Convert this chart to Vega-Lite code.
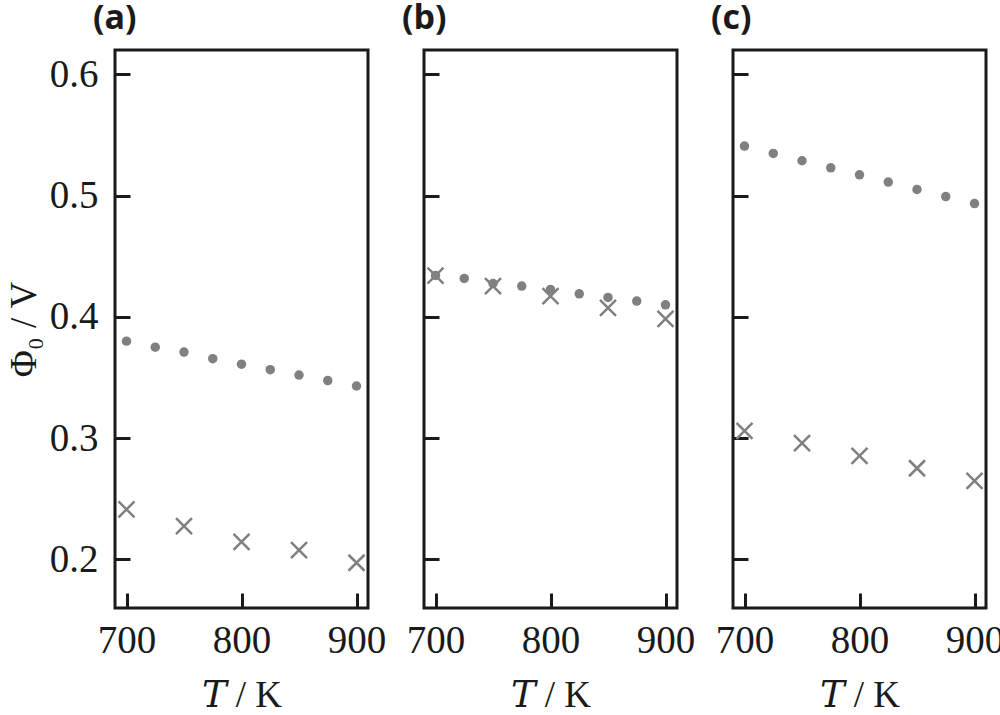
{
  "$schema": "https://vega.github.io/schema/vega-lite/v6.json",
  "background": "white",
  "padding": {"left": 3, "top": 0, "right": 0, "bottom": 0},
  "datasets": {
    "pts": [
      {"panel": "a", "kind": "dot", "T": 700, "phi": 0.380},
      {"panel": "a", "kind": "dot", "T": 725, "phi": 0.375},
      {"panel": "a", "kind": "dot", "T": 750, "phi": 0.371},
      {"panel": "a", "kind": "dot", "T": 775, "phi": 0.3655},
      {"panel": "a", "kind": "dot", "T": 800, "phi": 0.361},
      {"panel": "a", "kind": "dot", "T": 825, "phi": 0.3565},
      {"panel": "a", "kind": "dot", "T": 850, "phi": 0.352},
      {"panel": "a", "kind": "dot", "T": 875, "phi": 0.3475},
      {"panel": "a", "kind": "dot", "T": 900, "phi": 0.343},
      {"panel": "a", "kind": "cross", "T": 700, "phi": 0.2413},
      {"panel": "a", "kind": "cross", "T": 750, "phi": 0.2275},
      {"panel": "a", "kind": "cross", "T": 800, "phi": 0.2146},
      {"panel": "a", "kind": "cross", "T": 850, "phi": 0.2077},
      {"panel": "a", "kind": "cross", "T": 900, "phi": 0.1973},
      {"panel": "b", "kind": "dot", "T": 700, "phi": 0.4341},
      {"panel": "b", "kind": "dot", "T": 725, "phi": 0.4317},
      {"panel": "b", "kind": "dot", "T": 750, "phi": 0.4275},
      {"panel": "b", "kind": "dot", "T": 775, "phi": 0.4254},
      {"panel": "b", "kind": "dot", "T": 800, "phi": 0.4226},
      {"panel": "b", "kind": "dot", "T": 825, "phi": 0.419},
      {"panel": "b", "kind": "dot", "T": 850, "phi": 0.416},
      {"panel": "b", "kind": "dot", "T": 875, "phi": 0.413},
      {"panel": "b", "kind": "dot", "T": 900, "phi": 0.4099},
      {"panel": "b", "kind": "cross", "T": 700, "phi": 0.434},
      {"panel": "b", "kind": "cross", "T": 750, "phi": 0.4254},
      {"panel": "b", "kind": "cross", "T": 800, "phi": 0.4171},
      {"panel": "b", "kind": "cross", "T": 850, "phi": 0.4074},
      {"panel": "b", "kind": "cross", "T": 900, "phi": 0.3983},
      {"panel": "c", "kind": "dot", "T": 700, "phi": 0.5408},
      {"panel": "c", "kind": "dot", "T": 725, "phi": 0.5347},
      {"panel": "c", "kind": "dot", "T": 750, "phi": 0.5287},
      {"panel": "c", "kind": "dot", "T": 775, "phi": 0.5229},
      {"panel": "c", "kind": "dot", "T": 800, "phi": 0.5171},
      {"panel": "c", "kind": "dot", "T": 825, "phi": 0.5111},
      {"panel": "c", "kind": "dot", "T": 850, "phi": 0.505},
      {"panel": "c", "kind": "dot", "T": 875, "phi": 0.4992},
      {"panel": "c", "kind": "dot", "T": 900, "phi": 0.4934},
      {"panel": "c", "kind": "cross", "T": 700, "phi": 0.3061},
      {"panel": "c", "kind": "cross", "T": 750, "phi": 0.2959},
      {"panel": "c", "kind": "cross", "T": 800, "phi": 0.2855},
      {"panel": "c", "kind": "cross", "T": 850, "phi": 0.2752},
      {"panel": "c", "kind": "cross", "T": 900, "phi": 0.2648}
    ]
  },
  "config": {
    "view": {"stroke": "#1a1a1a", "strokeWidth": 3},
    "axis": {
      "domain": false,
      "grid": false,
      "tickColor": "#1a1a1a",
      "tickWidth": 3,
      "tickSize": -15,
      "labelFont": "Liberation Serif",
      "labelFontSize": 39,
      "labelColor": "#1a1a1a",
      "titleFont": "Liberation Serif, DejaVu Serif",
      "titleFontSize": 37,
      "titleFontWeight": "normal",
      "titleColor": "#1a1a1a"
    },
    "axisX": {"labelPadding": 28, "titlePadding": 17},
    "axisY": {"labelPadding": 32, "titlePadding": 6},
    "title": {"font": "Open Sans", "fontWeight": "bold", "fontSize": 34, "anchor": "start", "frame": "group", "color": "#1a1a1a"}
  },
  "bounds": "flush",
  "spacing": 56,
  "hconcat": [
    {
      "width": 253, "height": 558,
      "title": {"text": "(a)", "dx": -22, "offset": 14},
      "data": {"name": "pts"},
      "transform": [{"filter": "datum.panel == 'a'"}],
      "layer": [
        {
          "transform": [{"filter": "datum.kind == 'dot'"}],
          "mark": {"type": "point", "shape": "circle", "filled": true, "size": 90, "color": "#808080", "opacity": 1},
          "encoding": {
            "x": {"field": "T", "type": "quantitative", "scale": {"domain": [690, 910], "nice": false, "zero": false}, "axis": {"values": [700, 800, 900], "title": "𝑇 / K"}},
            "y": {"field": "phi", "type": "quantitative", "scale": {"domain": [0.16, 0.62], "nice": false, "zero": false}, "axis": {"values": [0.2, 0.3, 0.4, 0.5, 0.6], "format": ".1f", "title": "Φ₀ / V"}}
          }
        },
        {
          "transform": [{"filter": "datum.kind == 'cross'"}],
          "mark": {"type": "point", "shape": "M-1,-1L1,1M1,-1L-1,1", "filled": false, "size": 256, "strokeWidth": 2.5, "color": "#808080", "opacity": 1},
          "encoding": {
            "x": {"field": "T", "type": "quantitative"},
            "y": {"field": "phi", "type": "quantitative"}
          }
        }
      ]
    },
    {
      "width": 253, "height": 558,
      "title": {"text": "(b)", "dx": -22, "offset": 14},
      "data": {"name": "pts"},
      "transform": [{"filter": "datum.panel == 'b'"}],
      "layer": [
        {
          "transform": [{"filter": "datum.kind == 'dot'"}],
          "mark": {"type": "point", "shape": "circle", "filled": true, "size": 90, "color": "#808080", "opacity": 1},
          "encoding": {
            "x": {"field": "T", "type": "quantitative", "scale": {"domain": [690, 910], "nice": false, "zero": false}, "axis": {"values": [700, 800, 900], "title": "𝑇 / K"}},
            "y": {"field": "phi", "type": "quantitative", "scale": {"domain": [0.16, 0.62], "nice": false, "zero": false}, "axis": {"values": [0.2, 0.3, 0.4, 0.5, 0.6], "labels": false, "title": null}}
          }
        },
        {
          "transform": [{"filter": "datum.kind == 'cross'"}],
          "mark": {"type": "point", "shape": "M-1,-1L1,1M1,-1L-1,1", "filled": false, "size": 256, "strokeWidth": 2.5, "color": "#808080", "opacity": 1},
          "encoding": {
            "x": {"field": "T", "type": "quantitative"},
            "y": {"field": "phi", "type": "quantitative"}
          }
        }
      ]
    },
    {
      "width": 253, "height": 558,
      "title": {"text": "(c)", "dx": -22, "offset": 14},
      "data": {"name": "pts"},
      "transform": [{"filter": "datum.panel == 'c'"}],
      "layer": [
        {
          "transform": [{"filter": "datum.kind == 'dot'"}],
          "mark": {"type": "point", "shape": "circle", "filled": true, "size": 90, "color": "#808080", "opacity": 1},
          "encoding": {
            "x": {"field": "T", "type": "quantitative", "scale": {"domain": [690, 910], "nice": false, "zero": false}, "axis": {"values": [700, 800, 900], "title": "𝑇 / K"}},
            "y": {"field": "phi", "type": "quantitative", "scale": {"domain": [0.16, 0.62], "nice": false, "zero": false}, "axis": {"values": [0.2, 0.3, 0.4, 0.5, 0.6], "labels": false, "title": null}}
          }
        },
        {
          "transform": [{"filter": "datum.kind == 'cross'"}],
          "mark": {"type": "point", "shape": "M-1,-1L1,1M1,-1L-1,1", "filled": false, "size": 256, "strokeWidth": 2.5, "color": "#808080", "opacity": 1},
          "encoding": {
            "x": {"field": "T", "type": "quantitative"},
            "y": {"field": "phi", "type": "quantitative"}
          }
        }
      ]
    }
  ]
}
